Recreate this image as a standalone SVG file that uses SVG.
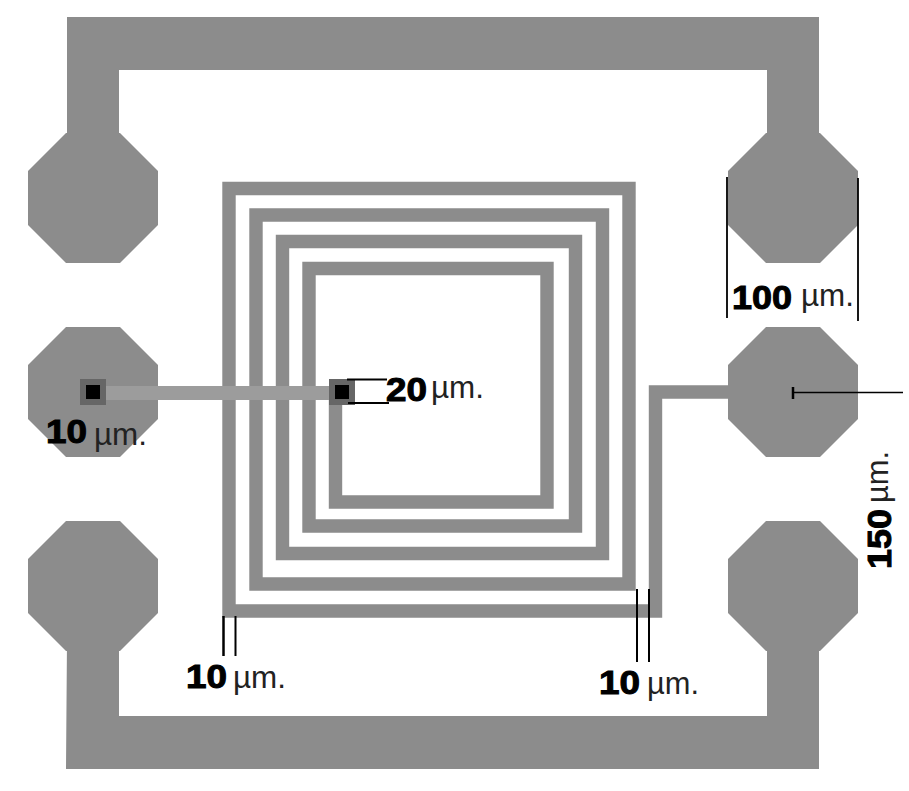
<svg xmlns="http://www.w3.org/2000/svg" width="909" height="791" viewBox="0 0 909 791">
<style>
.m{fill:#8c8c8c}
.spiral{fill:none;stroke:#8c8c8c;stroke-width:13.4;stroke-linejoin:miter;stroke-linecap:butt}
.dim{stroke:#000;fill:none}
.n{font-family:"Liberation Sans",Arial,sans-serif;font-weight:bold;font-size:33px;fill:#000;stroke:#000;stroke-width:1}
.u{font-family:"Liberation Sans",Arial,sans-serif;font-size:32px;fill:#222}
</style>
<defs>
<polygon id="oct" points="38,0 92,0 130,38 130,92 92,130 38,130 0,92 0,38" class="m"/>
</defs>
<rect width="909" height="791" fill="#fff"/>
<g id="frame-top"><path class="m" d="M67 17H819V135H767V70H119V135H67Z"/></g>
<g id="frame-bottom"><path class="m" d="M67 640H119V716H767V640H819V769H66Z"/></g>
<g id="pad-tl"><use href="#oct" x="28" y="133"/></g>
<g id="pad-ml"><use href="#oct" x="28" y="327"/></g>
<g id="pad-bl"><use href="#oct" x="28" y="521"/></g>
<g id="pad-tr"><use href="#oct" x="728" y="133"/></g>
<g id="pad-mr"><use href="#oct" x="728" y="327"/></g>
<g id="pad-br"><use href="#oct" x="728" y="521"/></g>
<g id="connectors">
<path id="spiral" class="spiral" d="M335.500 392V502H547V268.500H309V526H575.500V241.500H282.500V553.500H602.500V215H256V584H629V188.500H229V611H655.500V392H728"/>
<rect id="bridge" x="100" y="386" width="235" height="14" fill="#9c9c9c"/>
</g>
<g id="via-left"><rect x="80" y="379" width="26" height="26" fill="#666"/><rect x="86" y="385" width="14" height="14" fill="#000"/></g>
<g id="via-center"><rect x="329" y="379" width="26" height="26" fill="#666"/><rect x="335" y="385" width="14" height="14" fill="#000"/></g>
<g id="dimensions">
<path class="dim" stroke-width="1.800" d="M727 177V318M858 178V321"/>
<path class="dim" stroke-width="1.500" d="M793 392.500H903"/>
<path class="dim" stroke-width="2.500" d="M793 387V399"/>
<path class="dim" stroke-width="1.800" d="M347 379.500H387M348 403H389"/>
<path class="dim" stroke-width="2.500" d="M223.500 616V656"/>
<path class="dim" stroke-width="2" d="M235.500 616V656M637 589V662M649 589V662"/>
</g>
<g id="label-100"><text class="n" x="732" y="309" textLength="60" lengthAdjust="spacingAndGlyphs">100</text><text class="u" x="801" y="306" textLength="53" lengthAdjust="spacingAndGlyphs">µm.</text></g>
<g id="label-20"><text class="n" x="386" y="401" textLength="41" lengthAdjust="spacingAndGlyphs">20</text><text class="u" x="431" y="398" textLength="53" lengthAdjust="spacingAndGlyphs">µm.</text></g>
<g id="label-10-left"><text class="n" x="46" y="443" textLength="41" lengthAdjust="spacingAndGlyphs">10</text><text class="u" x="94" y="445" textLength="53" lengthAdjust="spacingAndGlyphs">µm.</text></g>
<g id="label-10-bottom"><text class="n" x="186" y="688" textLength="41" lengthAdjust="spacingAndGlyphs">10</text><text class="u" x="233" y="688" textLength="53" lengthAdjust="spacingAndGlyphs">µm.</text></g>
<g id="label-10-right"><text class="n" x="599" y="694" textLength="41" lengthAdjust="spacingAndGlyphs">10</text><text class="u" x="647" y="694" textLength="52" lengthAdjust="spacingAndGlyphs">µm.</text></g>
<g id="label-150" transform="translate(891 569) rotate(-90)"><text class="n" x="0" y="0" textLength="60" lengthAdjust="spacingAndGlyphs">150</text><text class="u" x="66" y="-3" textLength="52" lengthAdjust="spacingAndGlyphs">µm.</text></g>
</svg>
